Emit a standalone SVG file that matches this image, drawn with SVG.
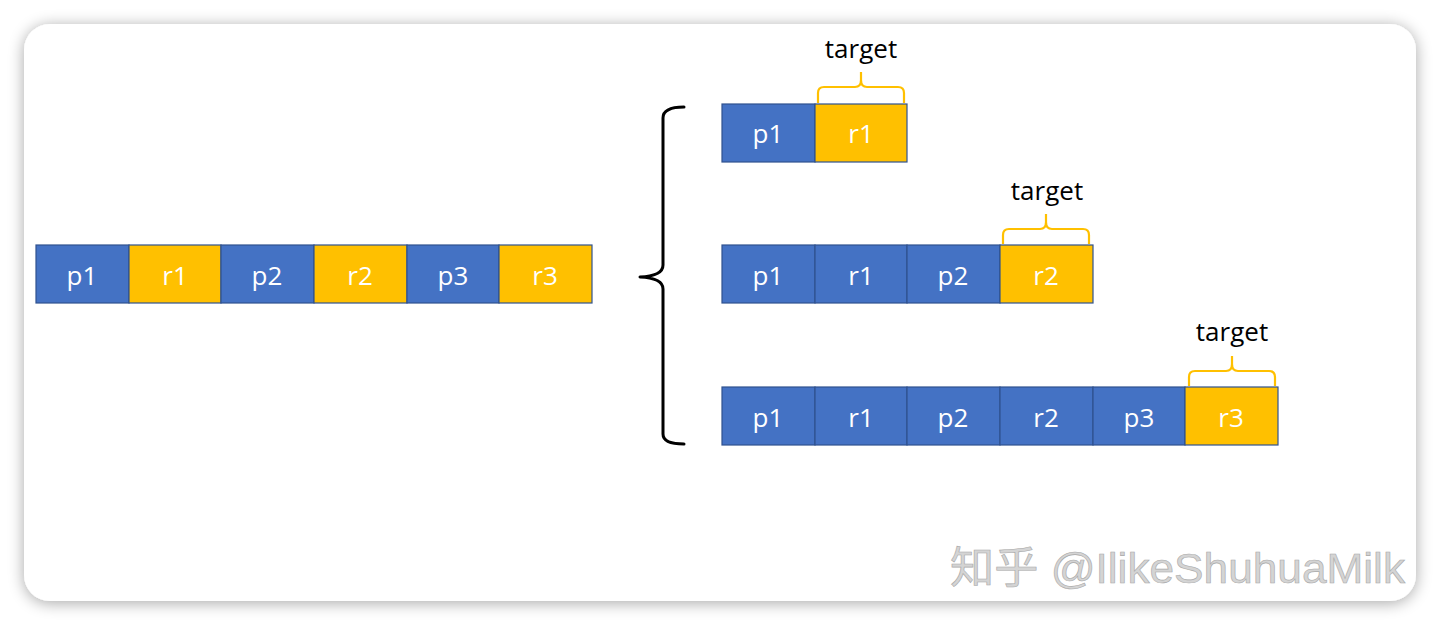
<svg xmlns="http://www.w3.org/2000/svg" width="1440" height="625" viewBox="0 0 1440 625">
<defs>
<filter id="sh" x="-5%" y="-10%" width="110%" height="120%">
<feGaussianBlur in="SourceAlpha" stdDeviation="8"/>
<feOffset dx="0" dy="2" result="b"/>
<feComponentTransfer><feFuncA type="linear" slope="0.35"/></feComponentTransfer>
<feMerge><feMergeNode/><feMergeNode in="SourceGraphic"/></feMerge>
</filter>
</defs>
<style>
.b{fill:#4472C4;stroke:#2F528F;stroke-width:1.2}
.y{fill:#FFC000;stroke:#2F528F;stroke-width:1.2}
.t{font-family:"Open Sans","Noto Sans","Liberation Sans",sans-serif;font-size:26px;fill:#fff;text-anchor:middle;dominant-baseline:central}
.lbl{font-family:"Open Sans","Noto Sans","Liberation Sans",sans-serif;font-size:26px;fill:#000;text-anchor:middle}
.br{fill:none;stroke:#FFC000;stroke-width:2.2;stroke-linejoin:round}
.cb{fill:none;stroke:#000;stroke-width:3;stroke-linecap:round;stroke-linejoin:round}
</style>
<rect width="1440" height="625" fill="#fff"/>
<rect x="24" y="24" width="1392" height="577" rx="26" fill="#fff" filter="url(#sh)"/>

<g id="left-row">
<rect class="b" x="36" y="245" width="93" height="58"/><text class="t" x="82" y="275">p1</text>
<rect class="y" x="129" y="245" width="92" height="58"/><text class="t" x="175" y="275">r1</text>
<rect class="b" x="221" y="245" width="93" height="58"/><text class="t" x="267" y="275">p2</text>
<rect class="y" x="314" y="245" width="93" height="58"/><text class="t" x="360" y="275">r2</text>
<rect class="b" x="407" y="245" width="92" height="58"/><text class="t" x="453" y="275">p3</text>
<rect class="y" x="499" y="245" width="93" height="58"/><text class="t" x="545" y="275">r3</text>
</g>

<g id="brace">
<path class="cb" d="M684 107 Q663 107 663 118 L663 265 Q663 276 640 277 Q663 278 663 289 L663 434 Q663 444 684 444"/>
</g>

<g id="row1">
<rect class="b" x="722" y="104" width="93" height="58"/><text class="t" x="768" y="133">p1</text>
<rect class="y" x="815" y="104" width="92" height="58"/><text class="t" x="861" y="133">r1</text>
<path class="br" d="M818 103 L818 93 Q818 87 824 87 L855 87 Q861 87 861 80 L861 72 M861 80 Q861 87 867 87 L898 87 Q904 87 904 93 L904 103"/>
<text class="lbl" x="861" y="58">target</text>
</g>

<g id="row2">
<rect class="b" x="722" y="245" width="93" height="58"/><text class="t" x="768" y="275">p1</text>
<rect class="b" x="815" y="245" width="92" height="58"/><text class="t" x="861" y="275">r1</text>
<rect class="b" x="907" y="245" width="93" height="58"/><text class="t" x="953" y="275">p2</text>
<rect class="y" x="1000" y="245" width="93" height="58"/><text class="t" x="1046" y="275">r2</text>
<path class="br" d="M1003 244 L1003 235 Q1003 229 1009 229 L1040 229 Q1046 229 1046 222 L1046 214 M1046 222 Q1046 229 1052 229 L1083 229 Q1089 229 1089 235 L1089 244"/>
<text class="lbl" x="1047" y="200">target</text>
</g>

<g id="row3">
<rect class="b" x="722" y="387" width="93" height="58"/><text class="t" x="768" y="417">p1</text>
<rect class="b" x="815" y="387" width="92" height="58"/><text class="t" x="861" y="417">r1</text>
<rect class="b" x="907" y="387" width="93" height="58"/><text class="t" x="953" y="417">p2</text>
<rect class="b" x="1000" y="387" width="93" height="58"/><text class="t" x="1046" y="417">r2</text>
<rect class="b" x="1093" y="387" width="92" height="58"/><text class="t" x="1139" y="417">p3</text>
<rect class="y" x="1185" y="387" width="93" height="58"/><text class="t" x="1231" y="417">r3</text>
<path class="br" d="M1189 386 L1189 377 Q1189 371 1195 371 L1226 371 Q1232 371 1232 364 L1232 356 M1232 364 Q1232 371 1238 371 L1269 371 Q1275 371 1275 377 L1275 386"/>
<text class="lbl" x="1232" y="341">target</text>
</g>

<text x="950" y="583" textLength="455" lengthAdjust="spacingAndGlyphs" font-family="'Liberation Sans','Noto Sans CJK SC',sans-serif" font-size="43" fill="#d4d4d4" stroke="#a8a8a8" stroke-width="0.6">知乎 @IlikeShuhuaMilk</text>
</svg>
